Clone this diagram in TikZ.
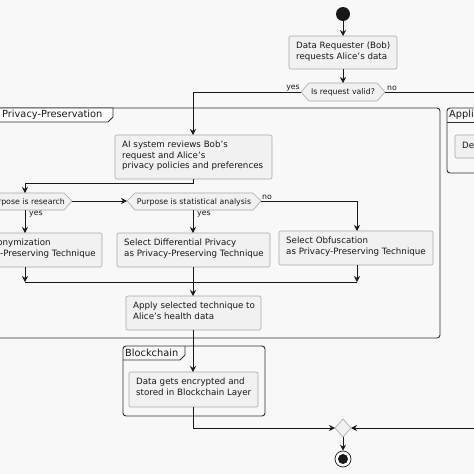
\documentclass[tikz,border=0pt]{standalone}
\usepackage{fontspec}
\setmainfont{DejaVu Sans}
\usetikzlibrary{arrows.meta,shapes.geometric,calc}
\definecolor{bg}{HTML}{F8F8F8}
\definecolor{boxfill}{HTML}{F1F1F1}
\definecolor{boxdraw}{HTML}{A8A8A8}
\definecolor{ink}{HTML}{181818}
\tikzset{
  act/.style={draw=boxdraw, fill=boxfill, rounded corners=2pt, line width=0.6pt},
  txt/.style={font=\fontsize{8.7}{10.2}\selectfont, align=left, anchor=north west, inner sep=0pt, text=ink},
  small/.style={font=\fontsize{7.8}{8}\selectfont, inner sep=0pt, text=ink},
  ftitle/.style={font=\fontsize{9.8}{10}\selectfont, anchor=west, inner sep=0pt, text=ink},
  frame/.style={draw=ink!90, line width=0.9pt, rounded corners=3pt},
  conn/.style={draw=ink, line width=0.7pt},
  arr/.style={conn, -{Stealth[length=6pt,width=6pt,inset=2pt]}},
}
\begin{document}
\begin{tikzpicture}[x=1pt,y=-1pt]
\useasboundingbox (0,0) rectangle (474,474);
\fill[bg] (0,0) rectangle (474,474);
\begin{scope}
\clip (0,0) rectangle (474,474);
% frames
\draw[frame] (-10,108) rectangle (440,338);
\draw[line width=0.9pt, draw=ink!90, fill=white] (-10,108) -- (113,108) -- (113,117) -- (108,122) -- (-10,122);
\node[ftitle] (ppt) at (2,115) {Privacy-Preservation};
\draw[frame] (447,108) rectangle (520,173);
\draw[line width=0.9pt, draw=ink!90] (447,122) -- (480,122);
\node[ftitle] (apt) at (449,115) {Application};
\draw[frame] (123,346) rectangle (265,416);
\draw[line width=0.9pt, draw=ink!90] (123,360) -- (180,360) -- (185,355) -- (185,346);
\node[ftitle] (bct) at (125,353) {Blockchain};

% start
\node[circle, fill=ink, minimum size=14pt, inner sep=0pt] (start) at (343,14) {};
% box 1
\draw[act] (289,36) rectangle (397,69);
\node[txt] (b1) at (296,42) {Data Requester (Bob)\\requests Alice's data};
\coordinate (b1t) at (343,36); \coordinate (b1b) at (343,69);
% decision 1
\draw[act, rounded corners=0pt] (301,92) -- (309,83) -- (377,83) -- (385,92) -- (377,101) -- (309,101) -- cycle;
\node[small] (d1) at (343,92.5) {Is request valid?};
\coordinate (d1t) at (343,83); \coordinate (d1l) at (301,92); \coordinate (d1r) at (385,92);
\node[small, anchor=south east] (yes1) at (300,91) {yes};
\node[small, anchor=south west] (no1) at (387,91) {no};
% application box
\draw[act] (455,135) rectangle (520,158);
\node[txt] (de) at (462,142) {Deny request};

% AI box
\draw[act] (115,135) rectangle (272,179);
\node[txt] (ai) at (122,141) {AI system reviews Bob's\\request and Alice's\\privacy policies and preferences};
\coordinate (ait) at (193,135); \coordinate (aib) at (193,179);
% decision research
\draw[act, rounded corners=0pt] (-70,201) -- (-62,193) -- (64,193) -- (72,201) -- (64,210) -- (-62,210) -- cycle;
\node[small, anchor=east] (d2) at (65,202) {Purpose is research};
\coordinate (d2t) at (25,193); \coordinate (d2b) at (25,210); \coordinate (d2r) at (72,201);
\node[small, anchor=north west] (yes2) at (29,211) {yes};
% decision stat
\draw[act, rounded corners=0pt] (127,201) -- (135,193) -- (253,193) -- (261,201) -- (253,210) -- (135,210) -- cycle;
\node[small] (d3) at (194,202) {Purpose is statistical analysis};
\coordinate (d3l) at (127,201); \coordinate (d3r) at (261,201); \coordinate (d3b) at (193,210);
\node[small, anchor=north west] (yes3) at (197,211) {yes};
\node[small, anchor=south west] (no3) at (262,200) {no};
% technique boxes
\draw[act] (-51,233) rectangle (102,267);
\node[txt] (an) at (-44,239) {Select Anonymization\\as Privacy-Preserving Technique};
\coordinate (ant) at (25,233); \coordinate (anb) at (25,267);
\draw[act] (117,233) rectangle (270,267);
\node[txt] (dp) at (124,239) {Select Differential Privacy\\as Privacy-Preserving Technique};
\coordinate (dpt) at (193,233); \coordinate (dpb) at (193,267);
\draw[act] (279,231) rectangle (433,265);
\node[txt] (ob) at (286,237) {Select Obfuscation\\as Privacy-Preserving Technique};
\coordinate (obt) at (357,231); \coordinate (obb) at (357,265);
% apply
\draw[act] (126,296) rectangle (261,330);
\node[txt] (ap) at (133,302) {Apply selected technique to\\Alice's health data};
\coordinate (apt2) at (193,296); \coordinate (apb) at (193,330);
% blockchain box
\draw[act] (129,372) rectangle (258,407);
\node[txt] (bc) at (136,378) {Data gets encrypted and\\stored in Blockchain Layer};
\coordinate (bct2) at (193,372); \coordinate (bcb) at (193,407);
% merge diamond
\draw[act, rounded corners=0pt] (335,428) -- (343,419) -- (351,428) -- (343,437) -- cycle;
\coordinate (ml) at (335,428); \coordinate (mr) at (351,428); \coordinate (mb) at (343,437);
% end
\node[circle, draw=ink, fill=white, line width=0.7pt, minimum size=16pt, inner sep=0pt] (end) at (343,459) {};
\node[circle, fill=ink, minimum size=10pt, inner sep=0pt] at (end) {};

% connectors
\draw[arr] (start) -- (b1t);
\draw[arr] (b1b) -- (d1t);
\draw[arr] (d1l) -| (ait);
\coordinate (noend) at (480,92);
\draw[conn] (d1r) -- (noend);
\draw[arr] (aib) -- ++(0,4) -| (d2t);
\draw[arr] (d2r) -- (d3l);
\draw[arr] (d2b) -- (ant);
\draw[arr] (d3b) -- (dpt);
\draw[arr] (d3r) -| (obt);
\coordinate (mergeL) at (25,282); \coordinate (mergeR) at (357,282);
\draw[arr] (anb) -- (mergeL);
\draw[arr] (obb) -- (mergeR);
\draw[conn] (mergeL) -- (mergeR);
\draw[arr] (dpb) -- (apt2);
\draw[arr] (apb) -- (bct2);
\draw[arr] (bcb) |- (ml);
\coordinate (rin) at (480,428);
\draw[arr] (rin) -- (mr);
\draw[arr] (mb) -- (end);
\end{scope}
\end{tikzpicture}
\end{document}
